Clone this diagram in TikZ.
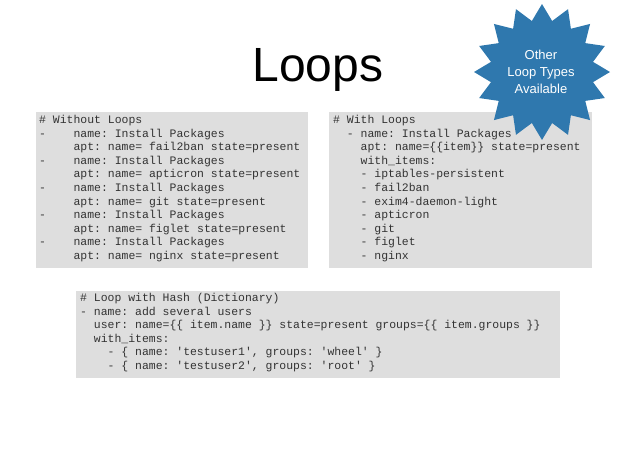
\documentclass[tikz,border=0pt]{standalone}
\usepackage{fontspec}
\setmainfont{Liberation Sans}
\setmonofont{Liberation Mono}
\definecolor{codebg}{HTML}{DEDEDE}
\definecolor{starblue}{HTML}{2F78AE}
\definecolor{codefg}{HTML}{333333}
\begin{document}
\begin{tikzpicture}[x=1pt,y=-1pt,
  codebox/.style={fill=codebg,draw=none},
  code/.style={anchor=north west,align=left,inner sep=0pt,font=\ttfamily\fontsize{11.45}{13.6}\selectfont,text=codefg}]
\useasboundingbox[fill=white] (0,0) rectangle (638,451);
\fill[codebox] (36,112) rectangle (308,268);
\fill[codebox] (329,112) rectangle (592,268);
\fill[codebox] (76,291) rectangle (560,378);
\node[font=\fontsize{48}{56}\selectfont] (title) at (318,70) {Loops};
\node[code] (c1) at (39,115) {\#\ Without\ Loops\\
-\ \ \ \ name:\ Install\ Packages\\
\ \ \ \ \ apt:\ name=\ fail2ban\ state=present\\
-\ \ \ \ name:\ Install\ Packages\\
\ \ \ \ \ apt:\ name=\ apticron\ state=present\\
-\ \ \ \ name:\ Install\ Packages\\
\ \ \ \ \ apt:\ name=\ git\ state=present\\
-\ \ \ \ name:\ Install\ Packages\\
\ \ \ \ \ apt:\ name=\ figlet\ state=present\\
-\ \ \ \ name:\ Install\ Packages\\
\ \ \ \ \ apt:\ name=\ nginx\ state=present};
\node[code] (c2) at (333,115) {\#\ With\ Loops\\
\ \ -\ name:\ Install\ Packages\\
\ \ \ \ apt:\ name=\{\{item\}\}\ state=present\\
\ \ \ \ with\_items:\\
\ \ \ \ -\ iptables-persistent\\
\ \ \ \ -\ fail2ban\\
\ \ \ \ -\ exim4-daemon-light\\
\ \ \ \ -\ apticron\\
\ \ \ \ -\ git\\
\ \ \ \ -\ figlet\\
\ \ \ \ -\ nginx};
\node[code] (c3) at (80,293) {\#\ Loop\ with\ Hash\ (Dictionary)\\
-\ name:\ add\ several\ users\\
\ \ user:\ name=\{\{\ item.name\ \}\}\ state=present\ groups=\{\{\ item.groups\ \}\}\\
\ \ with\_items:\\
\ \ \ \ -\ \{\ name:\ 'testuser1',\ groups:\ 'wheel'\ \}\\
\ \ \ \ -\ \{\ name:\ 'testuser2',\ groups:\ 'root'\ \}};
\fill[starblue] (542,72) +(90:68)
  \foreach \i in {1,...,31} {-- +({90+\i*11.25}:{mod(\i,2)==1 ? 52 : 68})} -- cycle;
\node[align=center,text=white,font=\fontsize{13}{17}\selectfont] (star) at (541,72) {Other\\Loop Types\\Available};
\end{tikzpicture}
\end{document}
